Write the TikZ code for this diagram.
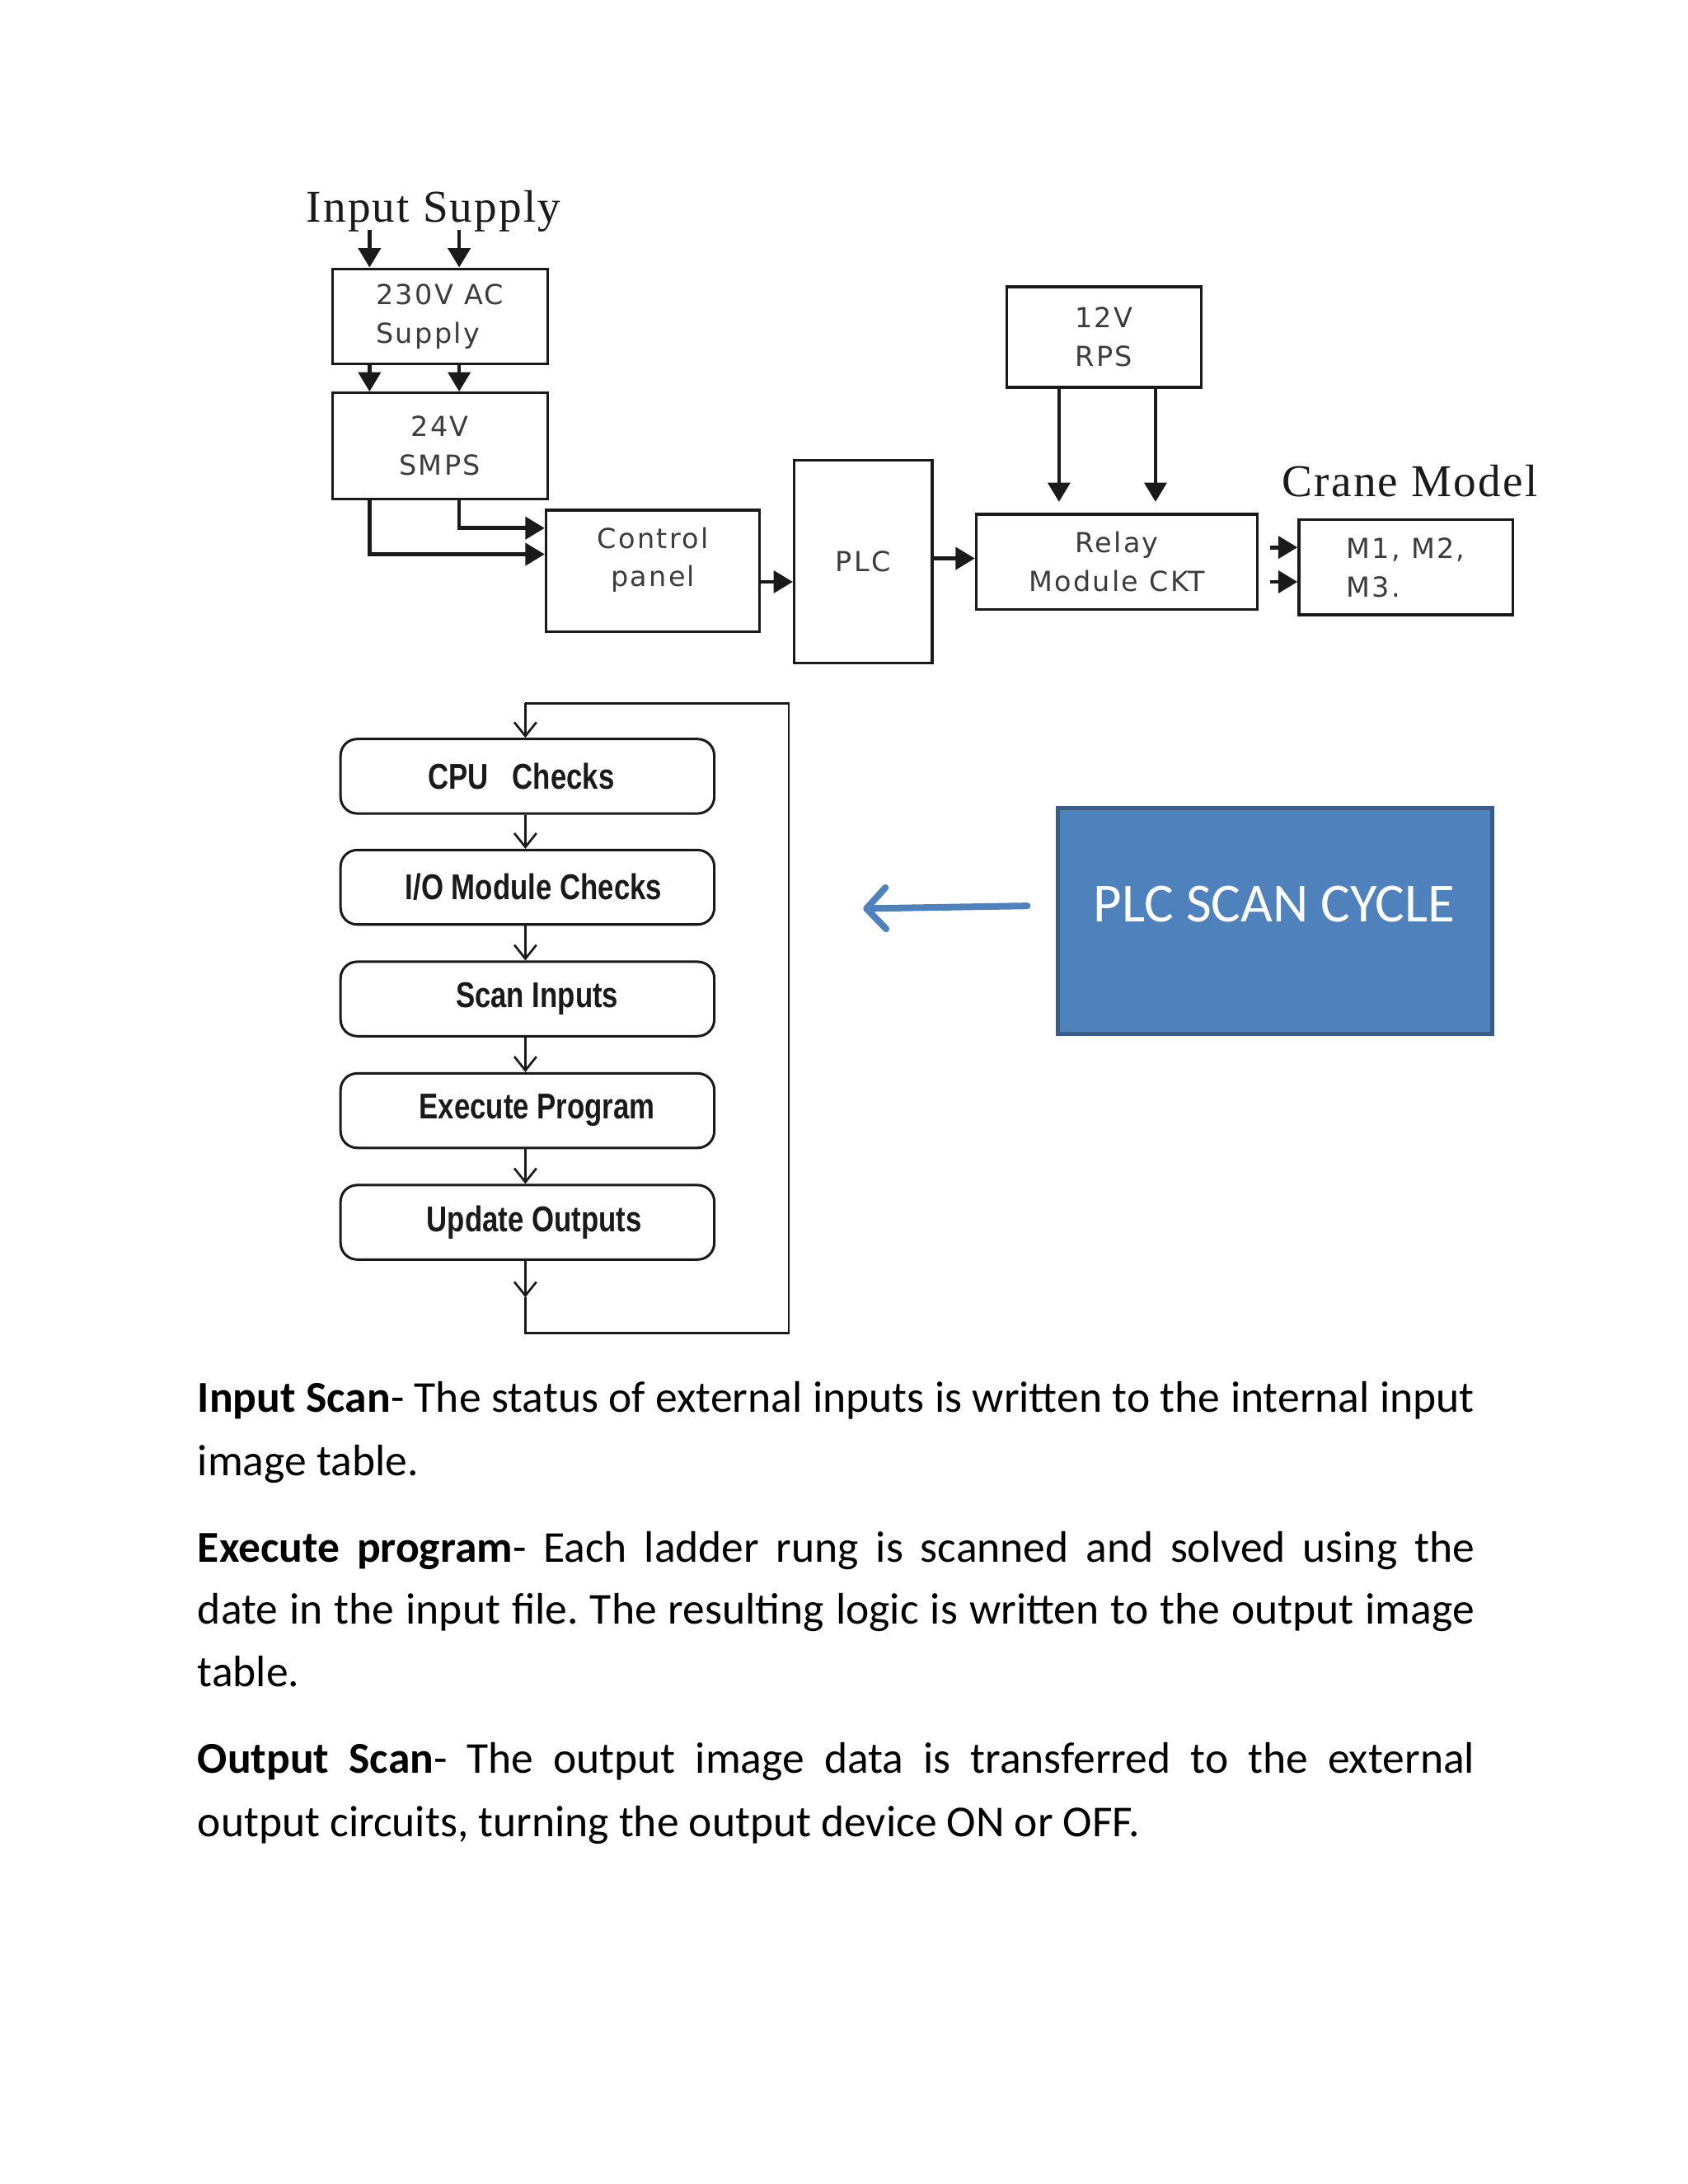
\documentclass[tikz,border=0pt]{standalone}
\usepackage{fontspec}
\setmainfont{Carlito}
\newfontfamily\boxfont[LetterSpace=7]{DejaVu Sans}
\newfontfamily\labfont[LetterSpace=4]{Liberation Serif}
\newfontfamily\narrowfont[FakeStretch=0.8]{Liberation Sans}
\usetikzlibrary{arrows.meta,calc}
\definecolor{plcblue}{HTML}{4F81BD}
\definecolor{plcborder}{HTML}{385D8A}
\definecolor{ink}{HTML}{1A1A1A}
\frenchspacing
\begin{document}
\begin{tikzpicture}[x=0.5pt,y=-0.5pt,
  blk/.style={draw=ink, line width=1pt, inner sep=0pt, align=left,
    font=\boxfont\fontsize{10}{14}\selectfont, text=ink!85},
  txt/.style={inner sep=0pt, align=center, font=\boxfont\fontsize{10}{14}\selectfont, text=ink!85},
  lab/.style={inner sep=0pt, anchor=base, font=\labfont\fontsize{16.5}{18}\selectfont, text=ink},
  fat/.style={draw=ink, line width=1.4pt, -{Triangle[length=7pt,width=8pt]}},
  scanbox/.style={draw=ink, line width=0.9pt, rounded corners=6pt, minimum width=135.5pt,
    minimum height=27pt, inner sep=0pt, font=\narrowfont\bfseries\fontsize{13}{15}\selectfont, text=ink},
  thinarr/.style={draw=ink, line width=0.8pt, -{Straight Barb[length=5pt,width=8pt]}},
  para/.style={anchor=base west, inner sep=0pt, font=\fontsize{16}{20}\selectfont},
]
\useasboundingbox (0,0) rectangle (1224,1584);
\fill[white] (0,0) rectangle (1224,1584);

% ---------- top block diagram ----------
\node[lab] (insup) at (314.5,161) {Input Supply};
\node[blk, minimum width=78pt, minimum height=34.5pt] (in230) at (319,229.5) {230V AC\\Supply};
\node[blk, minimum width=78pt, minimum height=38.5pt, align=center] (smps) at (319,323.5) {24V\\SMPS};
\node[blk, minimum width=77.5pt, minimum height=44pt] (cp) at (473.5,414) {};
\node[txt] (cptxt) at (473.5,406) {Control\\panel};
\node[blk, minimum width=50pt, minimum height=73.5pt] (plc) at (626,407.5) {PLC};
\node[blk, minimum width=102pt, minimum height=34.5pt, align=center] (relay) at (810,407.5) {Relay\\Module CKT};
\node[blk, minimum width=70.5pt, minimum height=36.5pt, align=center] (rps) at (800.5,244.5) {12V\\RPS};
\node[lab] (crane) at (1022.5,360) {Crane Model};
\node[blk, minimum width=77.5pt, minimum height=34.5pt] (motor) at (1019.5,411.5) {M1, M2,\\M3.};

\coordinate (is1) at (268,167);
\coordinate (is2) at (333,167);
\draw[fat] (is1) -- (is1 |- in230.north);
\draw[fat] (is2) -- (is2 |- in230.north);
\draw[fat] (in230.south -| is1) -- (smps.north -| is1);
\draw[fat] (in230.south -| is2) -- (smps.north -| is2);
\draw[fat] (smps.south -| is2) |- (cp.west |- 0,383);
\draw[fat] (smps.south -| is1) |- (cp.west |- 0,402);
\draw[fat] (cp.east |- 0,422) -- (plc.west |- 0,422);
\draw[fat] (plc.east |- 0,405) -- (relay.west |- 0,405);
\draw[fat, shorten >=4pt] (rps.south -| 768,0) -- (relay.north -| 768,0);
\draw[fat, shorten >=4pt] (rps.south -| 838,0) -- (relay.north -| 838,0);
\draw[fat, shorten <=4pt] (relay.east |- 0,397) -- (motor.west |- 0,397);
\draw[fat, shorten <=4pt] (relay.east |- 0,422) -- (motor.west |- 0,422);

% ---------- scan cycle flow ----------
\node[scanbox] (cpu)  at (382.5,563)   {CPU\ \ \ Checks\hspace*{4.5pt}};
\node[scanbox] (io)   at (382.5,643.5) {\hspace*{4.5pt}I/O Module Checks};
\node[scanbox] (scan) at (382.5,724.5) {\hspace*{7pt}Scan Inputs};
\node[scanbox] (exec) at (382.5,805.5) {\hspace*{7pt}Execute Program};
\node[scanbox] (upd)  at (382.5,886.5) {\hspace*{5pt}Update Outputs};

\coordinate (lt) at (381,510);
\coordinate (rt) at (572,510);
\coordinate (rb) at (572,967);
\coordinate (lb) at (381,967);
\coordinate (mid) at (381,941);
\draw[thinarr] (lt) -- (cpu.north -| lt);
\draw[thinarr] (cpu.south -| lt) -- (io.north -| lt);
\draw[thinarr] (io.south -| lt) -- (scan.north -| lt);
\draw[thinarr] (scan.south -| lt) -- (exec.north -| lt);
\draw[thinarr] (exec.south -| lt) -- (upd.north -| lt);
\draw[thinarr] (upd.south -| lt) -- (mid);
\draw[draw=ink, line width=0.8pt] (mid) -- (lb) -- (rb) -- (rt) -- (lt);

% ---------- PLC scan cycle box ----------
\node[draw=plcborder, line width=1.5pt, fill=plcblue, minimum width=157.5pt,
      minimum height=82pt, inner sep=0pt] (scanbox) at (924.5,668) {};
\node[text=white, inner sep=0pt, font=\fontsize{20}{24}\selectfont] (scantitle) at (924,656) {PLC SCAN CYCLE};
\coordinate (bs) at (745,657);
\coordinate (be) at (626,659);
\draw[plcblue, line width=2.4pt, line cap=round,
      -{Straight Barb[length=7pt,width=15pt,line cap=round,line join=round]}] (bs) -- (be);

% ---------- paragraphs ----------
\node[para] (p1a) at (143,1024) {\hbox to 463pt{\textbf{Input Scan}- The status of external inputs is written to the internal input}};
\node[para] (p1b) at (143,1070) {image table.};
\node[para] (p2a) at (143,1133) {\hbox to 463pt{\textbf{Execute program}- Each ladder rung is scanned and solved using the}};
\node[para] (p2b) at (143,1178) {\hbox to 463pt{date in the input file. The resulting logic is written to the output image}};
\node[para] (p2c) at (143,1223) {table.};
\node[para] (p3a) at (143,1286) {\hbox to 463pt{\textbf{Output Scan}- The output image data is transferred to the external}};
\node[para] (p3b) at (143,1332) {output circuits, turning the output device ON or OFF.};
\end{tikzpicture}
\end{document}
